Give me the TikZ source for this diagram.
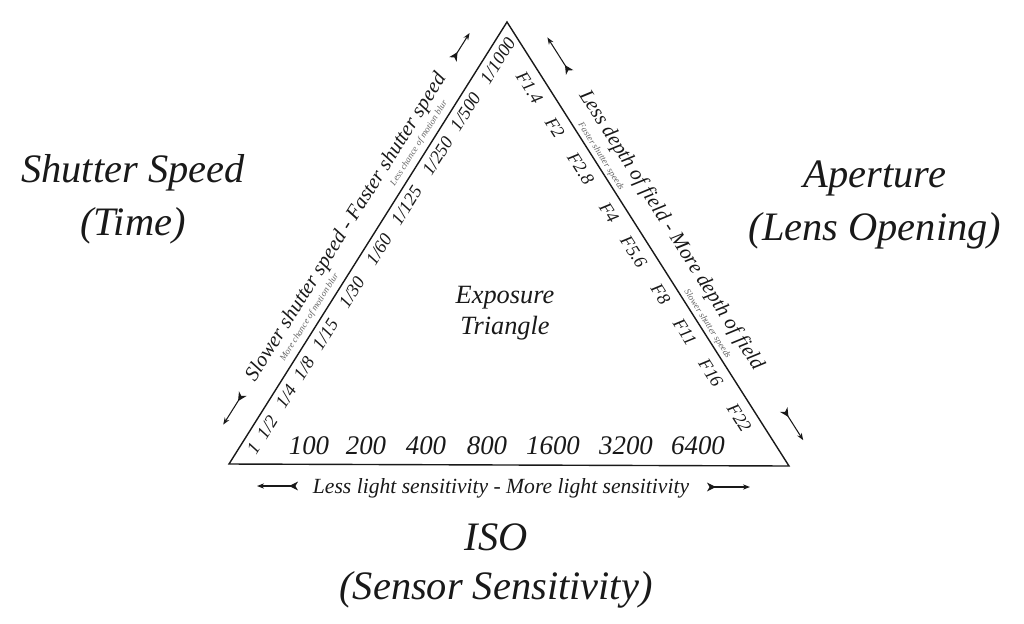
\documentclass[tikz,border=0pt]{standalone}
\usepackage{fontspec}
\setmainfont{Liberation Serif}
\usepackage{xcolor}
\usepackage{tikz}
\usetikzlibrary{arrows.meta,positioning}
\definecolor{inkgray}{RGB}{25,25,25}
\definecolor{notegray}{RGB}{100,100,100}

\begin{document}
\begin{tikzpicture}[
  x=0.02cm, y=-0.02cm,
  >=Stealth,
  title/.style = {font=\fontsize{23}{30}\selectfont\itshape, text=inkgray,
                  align=center, inner sep=0pt},
  centre/.style = {font=\fontsize{15}{18}\selectfont\itshape, text=inkgray,
                   align=center, inner sep=0pt},
  tick/.style = {font=\fontsize{10.4}{12}\selectfont\itshape, text=inkgray,
                 sloped, inner sep=0pt},
  isotick/.style = {font=\fontsize{15.3}{18}\selectfont\itshape, text=inkgray,
                    inner sep=0pt},
  edgelbl/.style = {font=\fontsize{11.8}{14}\selectfont\itshape, text=inkgray,
                    sloped, inner sep=0pt},
  note/.style = {font=\fontsize{5.2}{6}\selectfont\itshape, text=notegray,
                 sloped, inner sep=0pt},
  dir/.style = {{Stealth[reversed,length=5pt,width=5pt,inset=1.5pt]}-{Stealth[length=4pt,width=3pt]},
                line width=0.6pt, draw=inkgray},
  tri/.style = {draw=inkgray, line width=0.8pt}
]

\useasboundingbox (0,0) rectangle (1024,623);

% Triangle corners
\coordinate (A) at (507,22);
\coordinate (B) at (229,464);
\coordinate (C) at (789,466);
\draw[tri] (A) -- (B) -- (C) -- cycle;

% Titles
\node[title] (shutter) at (133,199) {Shutter Speed\\(Time)};
\node[title] (aperture) at (875,205) {Aperture\\(Lens Opening)};
\node[title] (iso) at (496,566) {ISO\\[-2pt](Sensor Sensitivity)};
\node[centre] (expo) at (505,313) {Exposure\\Triangle};

% Shutter speeds (left edge)
\foreach \p/\t [count=\i] in {0.050/1, 0.099/{1/2}, 0.167/{1/4}, 0.231/{1/8},
    0.308/{1/15}, 0.403/{1/30}, 0.501/{1/60}, 0.600/{1/125},
    0.712/{1/250}, 0.812/{1/500}, 0.928/{1/1000}}
  \path (B) -- (A) node[tick, pos=\p, below=3.5pt] (ss\i) {\t};

% F-stops (right edge)
\foreach \p/\t [count=\i] in {0.128/F1.4, 0.218/F2, 0.310/F2.8, 0.410/F4,
    0.498/F5.6, 0.593/F8, 0.679/F11, 0.771/F16, 0.872/F22}
  \path (A) -- (C) node[tick, pos=\p, below=5.5pt] (fs\i) {\t};

% ISO values (bottom edge)
\foreach \x/\t [count=\i] in {309/100, 366/200, 426/400, 487/800,
    553/1600, 626/3200, 698/6400}
  \node[isotick] (iv\i) at (\x,446) {\t};

% Edge captions
\path (B) -- (A)
  node[edgelbl, pos=0.503, above=9.5pt] (slowfast) {Slower shutter speed - Faster shutter speed}
  node[note, pos=0.320, above=3pt] (moreblur) {More chance of motion blur}
  node[note, pos=0.714, above=3pt] (lessblur) {Less chance of motion blur}
  coordinate[pos=0.128, sloped, above=14.7pt] (lt1)
  coordinate[pos=0.058, sloped, above=14.7pt] (lt2)
  coordinate[pos=0.884, sloped, above=14.7pt] (lt3)
  coordinate[pos=0.944, sloped, above=14.7pt] (lt4);
\path (A) -- (C)
  node[edgelbl, pos=0.502, above=9.5pt] (lessmore) {Less depth of field - More depth of field}
  node[note, pos=0.312, above=1.5pt] (fastsp) {Faster shutter speeds}
  node[note, pos=0.689, above=1.5pt] (slowsp) {Slower shutter speeds}
  coordinate[pos=0.145, sloped, above=14.7pt] (rt1)
  coordinate[pos=0.066, sloped, above=14.7pt] (rt2)
  coordinate[pos=0.904, sloped, above=14.7pt] (rt3)
  coordinate[pos=0.973, sloped, above=14.7pt] (rt4);
\node[font=\fontsize{12.3}{15}\selectfont\itshape, text=inkgray, inner sep=0pt]
  (light) at (501,488) {Less light sensitivity - More light sensitivity};
\coordinate (bl1) at (298,486);
\coordinate (bl2) at (257,486);
\coordinate (br1) at (707,487);
\coordinate (br2) at (750,487);

% Direction arrows
\draw[dir] (lt1) -- (lt2);
\draw[dir] (lt3) -- (lt4);
\draw[dir] (rt1) -- (rt2);
\draw[dir] (rt3) -- (rt4);
\draw[dir] (bl1) -- (bl2);
\draw[dir] (br1) -- (br2);

\end{tikzpicture}
\end{document}
